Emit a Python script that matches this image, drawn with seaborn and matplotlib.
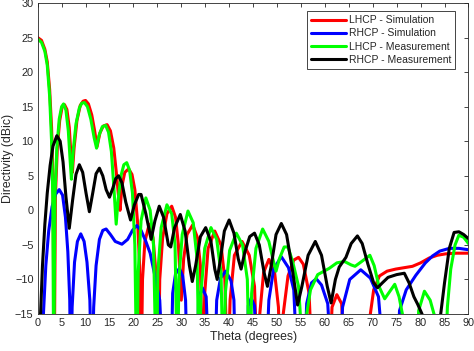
import pandas as pd
import seaborn as sns
from matplotlib import pyplot as plt

# LHCP - Simulation
lhcp_sim_theta = [0, 0.8, 1.5, 2.0, 2.5, 2.9, 3.2, 3.45,
                  3.7, 4.1, 4.6, 5.1, 5.6, 6.1, 6.6, 7.0, 7.25,
                  7.6, 8.2, 8.9, 9.5, 10.0, 10.6, 11.3, 11.9, 12.4,
                  13.0, 13.7, 14.5, 15.2, 15.9, 16.5, 16.9, 17.2,
                  17.6, 18.2, 19.0, 19.7, 20.3, 20.9, 21.3, 21.6,
                  21.9, 22.4, 23.3, 24.1, 24.7, 25.2,
                  25.5, 26.1, 27.0, 28.0, 28.8, 29.4, 30.0,
                  30.5, 31.2, 32.4, 33.4, 34.0, 34.5,
                  34.9, 35.6, 37.0, 38.3, 39.1, 39.7,
                  40.2, 41.1, 42.7, 44.2, 45.3, 46.0,
                  46.4, 47.2, 48.3, 49.5, 50.3, 50.8,
                  51.3, 52.3, 53.5, 54.5, 55.5, 56.7, 57.5,
                  60.8, 61.5, 62.5, 63.5, 64.4,
                  68.9, 69.5, 70.2, 71.4, 73.0, 74.8, 78.3, 80.0, 81.8, 83.5, 85.2, 87.5, 90.0]
lhcp_sim_val = [25.0, 24.6, 23.3, 21.5, 17.5, 12, 5, -25,
                2, 9, 13, 14.9, 15.3, 14.6, 12, 7.5, 5.5,
                9, 13, 15.2, 15.8, 15.9, 15.4, 13.8, 11.5, 9.2,
                11.2, 12.2, 12.4, 11.5, 9, 5, 2, 0,
                3.5, 5.5, 6.0, 5.2, 3, -2, -8, -25,
                -10, -4.5, -2, -4, -9, -25,
                -10, -4, -0.5, 0.6, -1, -5, -13,
                -7, -3.5, -2.1, -4, -8, -25,
                -12, -5.5, -3, -5, -10, -25,
                -13, -6.5, -4.5, -6.5, -11, -25,
                -15, -9, -7.1, -9, -14, -25,
                -15, -9.5, -7.2, -6.8, -7.8, -12, -25,
                -25, -14, -12.2, -13.5, -25,
                -25, -15, -11.5, -9.5, -8.8, -8.5, -8.1, -7.6, -6.9, -6.5, -6.3, -6.2, -6.2]

# RHCP - Simulation
rhcp_sim_theta = [0.9, 1.2, 1.7, 2.3, 3.0, 3.7, 4.5, 5.2, 5.8, 6.3, 6.7, 6.9,
                  7.2, 7.7, 8.3, 9.0, 9.7, 10.3, 10.9, 11.3,
                  11.7, 12.2, 12.9, 13.6, 14.3, 15.2, 16.2, 17.6, 18.8, 19.8, 20.7,
                  21.6, 22.6, 23.5, 24.5, 25.5, 26.3,
                  27.8, 28.2, 28.8, 29.6, 30.3, 30.9, 31.3,
                  33.2, 33.6, 34.4, 35.2, 35.9,
                  36.9, 37.4, 38.2, 39.3, 40.4, 41.0, 41.4,
                  43.6, 44.0, 44.6, 45.3, 45.9,
                  47.6, 48.3, 49.3, 50.9, 52.4, 53.5, 54.4,
                  55.6, 56.2, 57.2, 58.2, 59.3, 60.6, 61.6,
                  62.9, 63.7, 65.2, 67.5, 69.5, 71.2, 72.7,
                  74.9, 75.6, 77.0, 79.0, 81.0, 82.5, 84.0, 86.0, 88.0, 90.0]
rhcp_sim_val = [-25, -15, -8, -3, 0.5, 2.3, 3.0, 2.2, -1, -6, -13, -25,
                -14, -7.5, -4.5, -3.4, -4.5, -7.5, -13, -25,
                -14, -8, -4.2, -2.9, -2.7, -3.5, -4.5, -4.9, -4.2, -2.9, -2.2,
                -2.9, -4.5, -6.2, -9.5, -13, -25,
                -25, -12, -9.2, -8.4, -9.5, -13, -25,
                -25, -13, -11.2, -12.5, -25,
                -25, -13, -9.8, -8.8, -10.2, -13, -25,
                -25, -13.8, -12.7, -13.8, -25,
                -25, -13, -8.5, -6.7, -8.3, -11.5, -25,
                -25, -13.5, -10.5, -9.9, -10.8, -13.5, -25,
                -25, -14, -10, -8.6, -9.8, -12.5, -25,
                -25, -14.5, -11.5, -9.4, -7.6, -6.6, -5.9, -5.5, -5.5, -5.7]

# LHCP - Measurement
lhcp_meas_theta = [0, 0.8, 1.5, 2.0, 2.5, 2.9, 3.15, 3.35,
                   3.6, 4.0, 4.5, 5.0, 5.4, 5.9, 6.4, 6.8, 7.05,
                   7.4, 8.0, 8.7, 9.2, 9.75, 10.4, 11.1, 11.8, 12.3,
                   12.8, 13.5, 14.2, 14.8, 15.4, 15.9, 16.4,
                   16.8, 17.4, 18.0, 18.6, 19.2, 19.8, 20.3, 20.7,
                   21.0, 21.6, 22.6, 23.5, 24.2, 24.8,
                   25.1, 25.8, 27.0, 28.0, 28.7, 29.2,
                   29.5, 30.2, 31.4, 32.5, 33.3, 33.8,
                   34.1, 34.9, 36.2, 37.4, 38.3, 38.8,
                   39.2, 40.1, 41.5, 42.8, 43.8, 44.3,
                   44.7, 45.6, 47.0, 48.3, 49.3, 49.8, 50.5, 51.5, 52.3, 53.3, 54.5, 55.8,
                   56.2, 57.0, 58.5, 60.9, 62.5, 64.1, 65.5, 66.3, 67.5, 69.4, 70.3, 71.3,
                   72.5, 73.5, 74.6, 75.5, 76.2, 76.6,
                   79.0, 79.6, 80.8, 82.0, 83.2, 83.6,
                   85.0, 85.6, 86.3, 87.2, 88.0, 89.0, 90.0]
lhcp_meas_val = [24.8, 24.3, 23, 21, 16.5, 10, 2, -25,
                 2, 9, 13.2, 15.0, 15.4, 14.5, 11.5, 7, 4.5,
                 8.5, 12.5, 14.8, 15.5, 15.6, 15, 13.2, 10.5, 9.0,
                 10.8, 12.1, 12.3, 11.3, 8.5, 3.5, -2,
                 1.5, 5, 6.6, 6.9, 5.8, 2.5, -5, -25,
                 -9, -1.5, 1.8, 0, -5, -25,
                 -9, -2.5, 0.8, -0.5, -5, -25,
                 -10, -3.5, -0.1, -1.8, -7, -25,
                 -12, -5.5, -2.5, -4.2, -9, -25,
                 -12, -5.8, -3.3, -5, -10, -25,
                 -12, -5.5, -2.7, -4.5, -7.5, -8.8, -7, -5.3, -5.3, -7.5, -11, -25,
                 -15, -11.5, -9.3, -8.4, -7.6, -7.4, -7.9, -8.1, -7.5, -6.5, -8, -11,
                 -12.8, -11.8, -10.7, -12.5, -15, -25,
                 -25, -14.5, -11.7, -13, -16, -25,
                 -25, -14, -8.5, -5, -3.6, -3.9, -4.8]

# RHCP - Measurement
rhcp_meas_theta = [0.4, 0.6, 1.0, 1.5, 2.0, 2.6, 3.2, 4.0, 4.7, 5.3, 5.9, 6.6,
                   7.3, 8.0, 8.7, 9.4, 10.1, 10.8, 11.5, 12.2, 12.9, 13.6, 14.3, 15.0,
                   15.7, 16.3, 16.9, 17.6, 18.4, 19.4, 20.2, 21.1, 21.6, 22.6, 23.7,
                   24.5, 25.4, 26.3, 27.3, 27.8, 28.6, 29.8, 30.8, 31.7, 32.3,
                   33.0, 34.0, 35.1, 36.2, 37.0, 37.5, 38.2, 39.0, 40.0, 41.0, 41.9, 42.5,
                   43.3, 44.3, 45.3, 46.3, 47.3, 48.0, 48.8, 49.8, 50.9, 52.0, 53.2, 54.3,
                   55.2, 56.5, 58.0, 59.3, 60.5, 61.3, 62.2, 63.0, 64.4, 65.5, 66.8, 67.8,
                   69.0, 70.2, 71.0, 72.0, 73.2, 75.0, 76.6, 77.6, 78.6, 79.4, 80.3, 80.8,
                   83.5, 84.2, 85.0, 86.0, 87.0, 88.0, 89.0, 90.0]
rhcp_meas_val = [-25, -15, -8, -2, 2.5, 6.5, 9.3, 10.8, 10, 7, 2, -2.6,
                 1.5, 5.2, 6.6, 5.5, 2.5, -0.2, 2.5, 5.3, 6.1, 5, 3, 1.9,
                 3.2, 4.6, 5.0, 4, 1.2, -1.4, 0.8, 2.3, 2.3, -0.5, -4.2,
                 -1.5, 0.6, -1, -5, -5.3, -2.5, -0.6, -3, -8, -10.3,
                 -8, -3.8, -2.5, -4.5, -8.5, -10, -7, -3, -1.4, -3.3, -7, -8.5,
                 -6, -3.8, -3.3, -5, -9, -11, -8, -3.5, -1.9, -3.5, -8.5, -13.7,
                 -11, -6.5, -4.5, -6.5, -11, -13.4, -10, -8.2, -6.8, -4.8, -3.7, -4.8,
                 -7.8, -10.5, -11.2, -10.5, -9.7, -9.3, -9.1, -10.5, -12.5, -13.6, -15, -25,
                 -25, -15, -10.5, -5.5, -3.2, -3.1, -3.5, -4.1]

series = ["LHCP - Simulation", "RHCP - Simulation", "LHCP - Measurement", "RHCP - Measurement"]
colors = ["#ff0000", "#0000ff", "#00ff00", "#000000"]

frames = []
for name, th, val in zip(series,
                         [lhcp_sim_theta, rhcp_sim_theta, lhcp_meas_theta, rhcp_meas_theta],
                         [lhcp_sim_val, rhcp_sim_val, lhcp_meas_val, rhcp_meas_val]):
    frames.append(pd.DataFrame({"theta": th, "dir": val, "series": name}))
data = pd.concat(frames, ignore_index=True)

sns.set_style("white")
plt.rcParams['font.family'] = ['Liberation Sans', 'DejaVu Sans']

fig = plt.figure(figsize=(4.74, 3.51), dpi=100)
ax = fig.add_axes([0.0795, 0.1054, 0.9088, 0.886])

sns.lineplot(data=data, x="theta", y="dir", hue="series", hue_order=series,
             palette=dict(zip(series, colors)), estimator=None, sort=False,
             linewidth=2.2, ax=ax)

ax.set_xlim(0, 90)
ax.set_ylim(-15, 30)
ax.set_xticks(range(0, 91, 5))
ax.set_yticks(range(-15, 31, 5))
ax.tick_params(direction="in", top=True, right=True, length=3, width=0.6,
               labelsize=7.8, colors="#262626", pad=3)
for s in ax.spines.values():
    s.set_color("#262626")
    s.set_linewidth(0.6)
ax.set_xlabel("Theta (degrees)", fontsize=8.8, color="#262626", labelpad=2)
ax.set_ylabel("Directivity (dBic)", fontsize=8.8, color="#262626", labelpad=1)

ax.legend_.remove()
leg = ax.legend(loc="upper right", bbox_to_anchor=(0.969, 0.974), borderaxespad=0.,
                fontsize=7.5, handlelength=3.4, handletextpad=0.2, labelspacing=0.3,
                fancybox=False, framealpha=1, edgecolor="#262626", borderpad=0.4)
leg.get_frame().set_linewidth(0.6)

fig.savefig("out.png", dpi=100)
